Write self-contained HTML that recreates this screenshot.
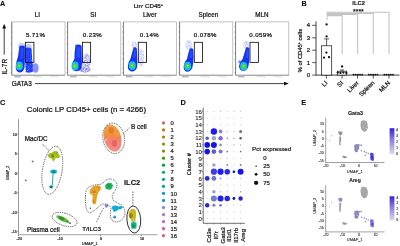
<!DOCTYPE html>
<html><head><meta charset="utf-8"><style>
html,body{margin:0;padding:0;background:#fff;width:400px;height:246px;overflow:hidden}
svg{display:block;font-family:"Liberation Sans", sans-serif;will-change:transform}
</style></head><body>
<svg width="400" height="246" viewBox="0 0 400 246">
<filter id="gb" x="0" y="0" width="100%" height="100%"><feGaussianBlur stdDeviation="0.3"/></filter>
<g filter="url(#gb)"><rect width="400" height="246" fill="#fff"/>
<defs>
<filter id="bl" x="-50%" y="-50%" width="200%" height="200%"><feGaussianBlur stdDeviation="0.75"/></filter>
<filter id="bl2" x="-50%" y="-50%" width="200%" height="200%"><feGaussianBlur stdDeviation="0.55"/></filter>
<filter id="bl3" x="-50%" y="-50%" width="200%" height="200%"><feGaussianBlur stdDeviation="0.35"/></filter>
<filter id="spk" x="-30%" y="-30%" width="160%" height="160%"><feTurbulence type="fractalNoise" baseFrequency="1.1" numOctaves="2" seed="7" result="n"/><feColorMatrix in="n" type="matrix" values="0 0 0 0 0  0 0 0 0 0  0 0 0 0 0  2.4 0 0 0 -0.6" result="m"/><feComposite in="SourceGraphic" in2="m" operator="in" result="c"/><feGaussianBlur in="c" stdDeviation="0.45"/></filter>
<filter id="spk3" x="-30%" y="-30%" width="160%" height="160%"><feTurbulence type="fractalNoise" baseFrequency="0.8" numOctaves="2" seed="3" result="n"/><feColorMatrix in="n" type="matrix" values="0 0 0 0 0  0 0 0 0 0  0 0 0 0 0  2.2 0 0 0 0.25" result="m"/><feComposite in="SourceGraphic" in2="m" operator="in" result="c"/><feGaussianBlur in="c" stdDeviation="0.35"/></filter>
<filter id="spk2" x="-30%" y="-30%" width="160%" height="160%"><feTurbulence type="fractalNoise" baseFrequency="0.6" numOctaves="2" seed="11" result="n"/><feColorMatrix in="n" type="matrix" values="0 0 0 0 0  0 0 0 0 0  0 0 0 0 0  2.2 0 0 0 0.15" result="m"/><feComposite in="SourceGraphic" in2="m" operator="in" result="c"/><feGaussianBlur in="c" stdDeviation="0.5"/></filter>
<linearGradient id="cb" x1="0" y1="0" x2="0" y2="1"><stop offset="0" stop-color="#3322dd"/><stop offset="0.45" stop-color="#8a80dc"/><stop offset="1" stop-color="#dcdce8"/></linearGradient>
<linearGradient id="bg" gradientUnits="userSpaceOnUse" x1="0" y1="124" x2="0" y2="152"><stop offset="0" stop-color="#F2A452"/><stop offset="0.42" stop-color="#EF9038"/><stop offset="0.54" stop-color="#F37E6C"/><stop offset="1" stop-color="#F59088"/></linearGradient>
<clipPath id="bclip"><ellipse cx="112.6" cy="138.1" rx="8.6" ry="13.9" transform="rotate(-14 112.6 138.1)"/></clipPath>
</defs>
<text x="0" y="6.1" font-size="7.2" text-anchor="start" font-weight="bold" fill="#111" stroke="#111" stroke-width="0.1" >A</text>
<text x="148.4" y="7.8" font-size="6.2" text-anchor="middle" fill="#111" stroke="#111" stroke-width="0.22">Lin<tspan font-size="4" dy="-2.2">-</tspan><tspan dy="2.2"> CD45</tspan><tspan font-size="4" dy="-2.2">+</tspan></text>
<text x="37.3" y="16.7" font-size="6.3" text-anchor="middle" font-weight="normal" fill="#111" stroke="#111" stroke-width="0.22" >LI</text>
<text x="35.6" y="37.3" font-size="6.1" text-anchor="middle" font-weight="normal" fill="#111" stroke="#111" stroke-width="0.22" letter-spacing="0.4">5.71%</text>
<rect x="11.8" y="21.9" width="53.2" height="53.3" fill="none" stroke="#a8a8a8" stroke-width="0.7"/>
<line x1="11.8" y1="21.9" x2="11.8" y2="75.2" stroke="#666" stroke-width="0.7"/>
<line x1="11.8" y1="75.2" x2="65.0" y2="75.2" stroke="#888" stroke-width="0.7"/>
<line x1="10.600000000000001" y1="26.5" x2="11.8" y2="26.5" stroke="#777" stroke-width="0.5"/>
<line x1="10.600000000000001" y1="32" x2="11.8" y2="32" stroke="#777" stroke-width="0.5"/>
<line x1="10.600000000000001" y1="38" x2="11.8" y2="38" stroke="#777" stroke-width="0.5"/>
<line x1="10.600000000000001" y1="44" x2="11.8" y2="44" stroke="#777" stroke-width="0.5"/>
<line x1="10.600000000000001" y1="53.4" x2="11.8" y2="53.4" stroke="#777" stroke-width="0.5"/>
<line x1="10.600000000000001" y1="59" x2="11.8" y2="59" stroke="#777" stroke-width="0.5"/>
<line x1="10.600000000000001" y1="68" x2="11.8" y2="68" stroke="#777" stroke-width="0.5"/>
<line x1="10.600000000000001" y1="72.5" x2="11.8" y2="72.5" stroke="#777" stroke-width="0.5"/>
<rect x="14.3" y="76.3" width="6.5" height="1" fill="#7878a0" opacity="0.8"/>
<rect x="32.8" y="76.3" width="9" height="0.9" fill="#c0c0d0" opacity="0.6"/>
<rect x="49.8" y="76.3" width="9" height="0.9" fill="#c8c8d8" opacity="0.6"/>
<text x="93.3" y="16.7" font-size="6.3" text-anchor="middle" font-weight="normal" fill="#111" stroke="#111" stroke-width="0.22" >SI</text>
<text x="92.5" y="37.3" font-size="6.1" text-anchor="middle" font-weight="normal" fill="#111" stroke="#111" stroke-width="0.22" letter-spacing="0.4">0.23%</text>
<rect x="67.6" y="21.9" width="53.2" height="53.3" fill="none" stroke="#a8a8a8" stroke-width="0.7"/>
<line x1="67.6" y1="21.9" x2="67.6" y2="75.2" stroke="#666" stroke-width="0.7"/>
<line x1="67.6" y1="75.2" x2="120.8" y2="75.2" stroke="#888" stroke-width="0.7"/>
<line x1="66.39999999999999" y1="26.5" x2="67.6" y2="26.5" stroke="#777" stroke-width="0.5"/>
<line x1="66.39999999999999" y1="32" x2="67.6" y2="32" stroke="#777" stroke-width="0.5"/>
<line x1="66.39999999999999" y1="38" x2="67.6" y2="38" stroke="#777" stroke-width="0.5"/>
<line x1="66.39999999999999" y1="44" x2="67.6" y2="44" stroke="#777" stroke-width="0.5"/>
<line x1="66.39999999999999" y1="53.4" x2="67.6" y2="53.4" stroke="#777" stroke-width="0.5"/>
<line x1="66.39999999999999" y1="59" x2="67.6" y2="59" stroke="#777" stroke-width="0.5"/>
<line x1="66.39999999999999" y1="68" x2="67.6" y2="68" stroke="#777" stroke-width="0.5"/>
<line x1="66.39999999999999" y1="72.5" x2="67.6" y2="72.5" stroke="#777" stroke-width="0.5"/>
<rect x="70.1" y="76.3" width="6.5" height="1" fill="#7878a0" opacity="0.8"/>
<rect x="88.6" y="76.3" width="9" height="0.9" fill="#c0c0d0" opacity="0.6"/>
<rect x="105.6" y="76.3" width="9" height="0.9" fill="#c8c8d8" opacity="0.6"/>
<text x="149.8" y="16.7" font-size="6.3" text-anchor="middle" font-weight="normal" fill="#111" stroke="#111" stroke-width="0.22" >Liver</text>
<text x="149.4" y="37.3" font-size="6.1" text-anchor="middle" font-weight="normal" fill="#111" stroke="#111" stroke-width="0.22" letter-spacing="0.4">0.14%</text>
<rect x="123.4" y="21.9" width="53.2" height="53.3" fill="none" stroke="#a8a8a8" stroke-width="0.7"/>
<line x1="123.4" y1="21.9" x2="123.4" y2="75.2" stroke="#666" stroke-width="0.7"/>
<line x1="123.4" y1="75.2" x2="176.60000000000002" y2="75.2" stroke="#888" stroke-width="0.7"/>
<line x1="122.2" y1="26.5" x2="123.4" y2="26.5" stroke="#777" stroke-width="0.5"/>
<line x1="122.2" y1="32" x2="123.4" y2="32" stroke="#777" stroke-width="0.5"/>
<line x1="122.2" y1="38" x2="123.4" y2="38" stroke="#777" stroke-width="0.5"/>
<line x1="122.2" y1="44" x2="123.4" y2="44" stroke="#777" stroke-width="0.5"/>
<line x1="122.2" y1="53.4" x2="123.4" y2="53.4" stroke="#777" stroke-width="0.5"/>
<line x1="122.2" y1="59" x2="123.4" y2="59" stroke="#777" stroke-width="0.5"/>
<line x1="122.2" y1="68" x2="123.4" y2="68" stroke="#777" stroke-width="0.5"/>
<line x1="122.2" y1="72.5" x2="123.4" y2="72.5" stroke="#777" stroke-width="0.5"/>
<rect x="125.9" y="76.3" width="6.5" height="1" fill="#7878a0" opacity="0.8"/>
<rect x="144.4" y="76.3" width="9" height="0.9" fill="#c0c0d0" opacity="0.6"/>
<rect x="161.4" y="76.3" width="9" height="0.9" fill="#c8c8d8" opacity="0.6"/>
<text x="208.4" y="16.7" font-size="6.3" text-anchor="middle" font-weight="normal" fill="#111" stroke="#111" stroke-width="0.22" >Spleen</text>
<text x="205.4" y="37.3" font-size="6.1" text-anchor="middle" font-weight="normal" fill="#111" stroke="#111" stroke-width="0.22" letter-spacing="0.4">0.078%</text>
<rect x="179.6" y="21.9" width="53.2" height="53.3" fill="none" stroke="#a8a8a8" stroke-width="0.7"/>
<line x1="179.6" y1="21.9" x2="179.6" y2="75.2" stroke="#666" stroke-width="0.7"/>
<line x1="179.6" y1="75.2" x2="232.8" y2="75.2" stroke="#888" stroke-width="0.7"/>
<line x1="178.4" y1="26.5" x2="179.6" y2="26.5" stroke="#777" stroke-width="0.5"/>
<line x1="178.4" y1="32" x2="179.6" y2="32" stroke="#777" stroke-width="0.5"/>
<line x1="178.4" y1="38" x2="179.6" y2="38" stroke="#777" stroke-width="0.5"/>
<line x1="178.4" y1="44" x2="179.6" y2="44" stroke="#777" stroke-width="0.5"/>
<line x1="178.4" y1="53.4" x2="179.6" y2="53.4" stroke="#777" stroke-width="0.5"/>
<line x1="178.4" y1="59" x2="179.6" y2="59" stroke="#777" stroke-width="0.5"/>
<line x1="178.4" y1="68" x2="179.6" y2="68" stroke="#777" stroke-width="0.5"/>
<line x1="178.4" y1="72.5" x2="179.6" y2="72.5" stroke="#777" stroke-width="0.5"/>
<rect x="182.1" y="76.3" width="6.5" height="1" fill="#7878a0" opacity="0.8"/>
<rect x="200.6" y="76.3" width="9" height="0.9" fill="#c0c0d0" opacity="0.6"/>
<rect x="217.6" y="76.3" width="9" height="0.9" fill="#c8c8d8" opacity="0.6"/>
<text x="262.0" y="16.7" font-size="6.3" text-anchor="middle" font-weight="normal" fill="#111" stroke="#111" stroke-width="0.22" >MLN</text>
<text x="260.8" y="37.3" font-size="6.1" text-anchor="middle" font-weight="normal" fill="#111" stroke="#111" stroke-width="0.22" letter-spacing="0.4">0.059%</text>
<rect x="235.6" y="21.9" width="53.2" height="53.3" fill="none" stroke="#a8a8a8" stroke-width="0.7"/>
<line x1="235.6" y1="21.9" x2="235.6" y2="75.2" stroke="#666" stroke-width="0.7"/>
<line x1="235.6" y1="75.2" x2="288.8" y2="75.2" stroke="#888" stroke-width="0.7"/>
<line x1="234.4" y1="26.5" x2="235.6" y2="26.5" stroke="#777" stroke-width="0.5"/>
<line x1="234.4" y1="32" x2="235.6" y2="32" stroke="#777" stroke-width="0.5"/>
<line x1="234.4" y1="38" x2="235.6" y2="38" stroke="#777" stroke-width="0.5"/>
<line x1="234.4" y1="44" x2="235.6" y2="44" stroke="#777" stroke-width="0.5"/>
<line x1="234.4" y1="53.4" x2="235.6" y2="53.4" stroke="#777" stroke-width="0.5"/>
<line x1="234.4" y1="59" x2="235.6" y2="59" stroke="#777" stroke-width="0.5"/>
<line x1="234.4" y1="68" x2="235.6" y2="68" stroke="#777" stroke-width="0.5"/>
<line x1="234.4" y1="72.5" x2="235.6" y2="72.5" stroke="#777" stroke-width="0.5"/>
<rect x="238.1" y="76.3" width="6.5" height="1" fill="#7878a0" opacity="0.8"/>
<rect x="256.6" y="76.3" width="9" height="0.9" fill="#c0c0d0" opacity="0.6"/>
<rect x="273.6" y="76.3" width="9" height="0.9" fill="#c8c8d8" opacity="0.6"/>
<g filter="url(#spk)" opacity="0.75"><ellipse cx="21.5" cy="46" rx="3.5" ry="3" fill="#90a0ff"/></g>
<g filter="url(#bl)"><path d="M19.5 46 Q22.8 44.6 24.8 46.5 L24.9 58 Q24.8 63 24.6 67 Q23.6 72 20.4 72.4 Q16.6 72.4 15.8 68.5 Q15.4 64 16.8 60.5 Q18.6 56.5 18.6 52 Z" fill="#1430f8"/></g>
<g filter="url(#bl)"><path d="M20.6 48 Q22.6 47.4 23.4 49 L23.2 58 Q22 60 20.4 59 Z" fill="#3a6cff" opacity="0.45"/></g>
<g filter="url(#spk2)"><ellipse cx="28.6" cy="46.6" rx="3.2" ry="2.6" fill="#a8b4ff" opacity="0.7"/><path d="M25.2 48.2 Q28.5 46.8 31.6 48.6 L32.2 60 Q33.4 66 33 71.5 Q29 73.6 25.6 72 Z" fill="#2242f8"/><ellipse cx="35.5" cy="68" rx="3.2" ry="4.8" fill="#6a72ff" opacity="0.8"/></g>
<g filter="url(#bl2)"><ellipse cx="19.4" cy="65.9" rx="3.5" ry="4.4" fill="#10c0f4"/><ellipse cx="19.4" cy="65.9" rx="2.2" ry="2.7" fill="#3cd850"/><ellipse cx="19.4" cy="65.9" rx="0.8" ry="1.0" fill="#d8e020"/><ellipse cx="19.4" cy="65.9" rx="0.3" ry="0.35" fill="#c84010"/></g>
<g filter="url(#spk)"><ellipse cx="86" cy="62" rx="4.5" ry="9" fill="#8080f0" opacity="0.7"/><ellipse cx="85" cy="69.5" rx="6" ry="3" fill="#7070f0" opacity="0.9"/></g>
<g filter="url(#bl)"><path d="M75.5 45 Q79 43.8 81.6 45.8 L81.8 58 Q82.2 64 81.6 68 Q79.8 71.2 76 71.2 Q72 70.8 71.8 66.5 Q72 62 74.4 59 Q74.4 52 75.5 45 Z" fill="#1430f8"/></g>
<g filter="url(#bl)"><path d="M76.6 47 Q79 46.2 80.2 47.6 L80.2 57 Q78.4 59.5 76.4 58 Z" fill="#3a6cff" opacity="0.45"/></g>
<g filter="url(#bl2)"><ellipse cx="75.1" cy="66.0" rx="3.5" ry="4.4" fill="#10c0f4"/><ellipse cx="75.1" cy="66.0" rx="2.2" ry="2.7" fill="#3cd850"/><ellipse cx="75.1" cy="66.0" rx="0.8" ry="1.0" fill="#d8e020"/><ellipse cx="75.1" cy="66.0" rx="0.3" ry="0.35" fill="#c84010"/></g>
<g filter="url(#spk)" opacity="0.5"><ellipse cx="141" cy="58" rx="3.2" ry="9" fill="#9090f0"/></g>
<g filter="url(#spk)" opacity="0.75"><ellipse cx="134.2" cy="45" rx="2.6" ry="3.8" fill="#aab4ff"/></g>
<g filter="url(#bl)"><path d="M133.6 47.5 Q136 46.8 136.8 48.5 L137.2 57 Q137.6 63 137 67.5 Q135.4 71.5 131.8 71.5 Q128 71 127.8 66.5 Q128.2 61.5 130.6 58.5 Q131.8 53 133.6 47.5 Z" fill="#1430f8"/></g>
<g filter="url(#bl)"><path d="M134.2 49.5 Q135.6 49 136 50.5 L135.8 57 Q134.4 59 133 57.5 Z" fill="#3a6cff" opacity="0.45"/></g>
<g filter="url(#bl2)"><ellipse cx="132.3" cy="65.6" rx="3.5" ry="4.4" fill="#10c0f4"/><ellipse cx="132.3" cy="65.6" rx="2.2" ry="2.7" fill="#3cd850"/><ellipse cx="132.3" cy="65.6" rx="0.8" ry="1.0" fill="#d8e020"/><ellipse cx="132.3" cy="65.6" rx="0.3" ry="0.35" fill="#c84010"/></g>
<g filter="url(#spk)" opacity="0.75"><ellipse cx="188.8" cy="45" rx="3.2" ry="5" fill="#aab4ff"/></g>
<g filter="url(#bl)"><path d="M189.8 48.5 Q192.5 47.8 193.3 49.5 L193.6 57 Q193.4 63 192.4 67.5 Q190.5 71.8 187 71.8 Q183.6 71 183.6 66.5 Q184.2 61.5 187 59 Q188.2 53 189.8 48.5 Z" fill="#1430f8"/></g>
<g filter="url(#bl)"><path d="M190.4 50.5 Q192 50 192.4 51.5 L192.2 57 Q190.6 59 189.4 57.5 Z" fill="#3a6cff" opacity="0.45"/></g>
<g filter="url(#bl2)"><ellipse cx="187.6" cy="66.1" rx="3.5" ry="4.4" fill="#10c0f4"/><ellipse cx="187.6" cy="66.1" rx="2.2" ry="2.7" fill="#3cd850"/><ellipse cx="187.6" cy="66.1" rx="0.8" ry="1.0" fill="#d8e020"/><ellipse cx="187.6" cy="66.1" rx="0.3" ry="0.35" fill="#c84010"/></g>
<g filter="url(#spk)" opacity="0.75"><ellipse cx="246.2" cy="45" rx="2.8" ry="4.2" fill="#aab4ff"/></g>
<g filter="url(#bl)"><path d="M246 47.5 Q249 46.5 249.4 48.8 L249.4 57 Q249.2 63 248.2 67 Q246.5 71 243 71 Q239.4 70.4 239 66 Q239.4 62 242.6 59 Q244.5 53 246 47.5 Z" fill="#1430f8"/></g>
<g filter="url(#bl)"><path d="M246.6 49.5 Q248.2 49 248.5 50.5 L248.3 57 Q246.8 59 245.6 57.5 Z" fill="#3a6cff" opacity="0.45"/></g>
<g filter="url(#bl)"><ellipse cx="239.6" cy="61.8" rx="1.4" ry="1.6" fill="#4060ff" opacity="0.7"/></g>
<g filter="url(#bl2)"><ellipse cx="243.6" cy="66.3" rx="3.5" ry="4.4" fill="#10c0f4"/><ellipse cx="243.6" cy="66.3" rx="2.2" ry="2.7" fill="#3cd850"/><ellipse cx="243.6" cy="66.3" rx="0.8" ry="1.0" fill="#d8e020"/><ellipse cx="243.6" cy="66.3" rx="0.3" ry="0.35" fill="#c84010"/></g>
<rect x="25.4" y="42.3" width="8.5" height="20.1" fill="none" stroke="#111" stroke-width="0.85"/>
<rect x="82.4" y="42.3" width="8.2" height="20.1" fill="none" stroke="#111" stroke-width="0.85"/>
<rect x="138.3" y="42.3" width="8.2" height="20.1" fill="none" stroke="#111" stroke-width="0.85"/>
<rect x="194.3" y="42.3" width="8.2" height="20.1" fill="none" stroke="#111" stroke-width="0.85"/>
<rect x="250.0" y="42.3" width="8.4" height="20.1" fill="none" stroke="#111" stroke-width="0.85"/>
<line x1="4.2" y1="27" x2="4.2" y2="54.7" stroke="#111" stroke-width="0.8"/>
<path d="M4.2 23.8 L6.1 28.4 L2.3 28.4 Z" fill="#111"/>
<text x="0" y="0" font-size="6.4" text-anchor="middle" font-weight="normal" fill="#111" stroke="#111" stroke-width="0.22" transform="translate(6.7 66.8) rotate(-90)">IL-7R</text>
<text x="11.7" y="85.9" font-size="6.4" text-anchor="start" font-weight="normal" fill="#111" stroke="#111" stroke-width="0.22" >GATA3</text>
<line x1="35" y1="83.6" x2="284" y2="83.6" stroke="#111" stroke-width="0.8"/>
<path d="M288.8 83.6 L284 81.8 L284 85.4 Z" fill="#111"/>
<text x="301.4" y="6.2" font-size="7.2" text-anchor="start" font-weight="bold" fill="#111" stroke="#111" stroke-width="0.1" >B</text>
<text x="358.6" y="5.0" font-size="5.8" text-anchor="middle" font-weight="bold" fill="#111" stroke="#111" stroke-width="0.1" >ILC2</text>
<text x="358.4" y="14.0" font-size="6.8" text-anchor="middle" font-weight="bold" fill="#111" stroke="#111" stroke-width="0.1" >****</text>
<path d="M327.2 15.6 L342.1 15.6 L342.1 54" fill="none" stroke="#c4c4c4" stroke-width="1.1"/>
<path d="M327.2 14.5 L357.6 14.5 L357.6 54" fill="none" stroke="#c4c4c4" stroke-width="1.1"/>
<path d="M327.2 13.4 L373.3 13.4 L373.3 54" fill="none" stroke="#c4c4c4" stroke-width="1.1"/>
<path d="M327.2 12.3 L389.0 12.3 L389.0 54" fill="none" stroke="#c4c4c4" stroke-width="1.1"/>
<line x1="327.2" y1="11.8" x2="327.2" y2="20.2" stroke="#b8b8b8" stroke-width="0.8"/>
<line x1="316.0" y1="21.4" x2="316.0" y2="75.1" stroke="#111" stroke-width="0.8"/>
<line x1="316.0" y1="75.1" x2="399.5" y2="75.1" stroke="#111" stroke-width="0.8"/>
<line x1="312.2" y1="75.1" x2="316.0" y2="75.1" stroke="#111" stroke-width="0.7"/>
<text x="310.0" y="77.2" font-size="5.9" text-anchor="end" font-weight="normal" fill="#111" stroke="#111" stroke-width="0.22" >0</text>
<line x1="312.2" y1="62.6" x2="316.0" y2="62.6" stroke="#111" stroke-width="0.7"/>
<text x="310.0" y="64.7" font-size="5.9" text-anchor="end" font-weight="normal" fill="#111" stroke="#111" stroke-width="0.22" >1</text>
<line x1="312.2" y1="50.2" x2="316.0" y2="50.2" stroke="#111" stroke-width="0.7"/>
<text x="310.0" y="52.3" font-size="5.9" text-anchor="end" font-weight="normal" fill="#111" stroke="#111" stroke-width="0.22" >2</text>
<line x1="312.2" y1="37.8" x2="316.0" y2="37.8" stroke="#111" stroke-width="0.7"/>
<text x="310.0" y="39.9" font-size="5.9" text-anchor="end" font-weight="normal" fill="#111" stroke="#111" stroke-width="0.22" >3</text>
<line x1="312.2" y1="25.3" x2="316.0" y2="25.3" stroke="#111" stroke-width="0.7"/>
<text x="310.0" y="27.4" font-size="5.9" text-anchor="end" font-weight="normal" fill="#111" stroke="#111" stroke-width="0.22" >4</text>
<line x1="326.4" y1="75.1" x2="326.4" y2="78.6" stroke="#111" stroke-width="0.7"/>
<line x1="342.1" y1="75.1" x2="342.1" y2="78.6" stroke="#111" stroke-width="0.7"/>
<line x1="357.6" y1="75.1" x2="357.6" y2="78.6" stroke="#111" stroke-width="0.7"/>
<line x1="373.3" y1="75.1" x2="373.3" y2="78.6" stroke="#111" stroke-width="0.7"/>
<line x1="389.0" y1="75.1" x2="389.0" y2="78.6" stroke="#111" stroke-width="0.7"/>
<rect x="321.6" y="45.8" width="10.1" height="29.3" fill="#fff" stroke="#111" stroke-width="0.7"/>
<path d="M326.6 45.8 L326.6 38.9 M324.2 38.9 L329.0 38.9" stroke="#111" stroke-width="0.7"/>
<rect x="337.3" y="71.2" width="9.4" height="3.9" fill="#fff" stroke="#111" stroke-width="0.7"/>
<path d="M342.1 71.2 L342.1 70.0 M340.2 70.0 L344.0 70.0" stroke="#111" stroke-width="0.7"/>
<circle cx="326.6" cy="24.4" r="1.15" fill="#111"/>
<circle cx="326.6" cy="36.4" r="1.15" fill="#111"/>
<circle cx="326.4" cy="52.6" r="1.15" fill="#111"/>
<circle cx="324" cy="57.6" r="1.15" fill="#111"/>
<circle cx="329" cy="57.2" r="1.15" fill="#111"/>
<circle cx="342.1" cy="66.5" r="1.15" fill="#111"/>
<circle cx="337.8" cy="72.6" r="1.15" fill="#111"/>
<circle cx="340.5" cy="72.9" r="1.15" fill="#111"/>
<circle cx="343.4" cy="72.6" r="1.15" fill="#111"/>
<circle cx="346.3" cy="72.9" r="1.15" fill="#111"/>
<circle cx="353.60" cy="74.6" r="0.95" fill="#111"/>
<circle cx="355.75" cy="74.6" r="0.95" fill="#111"/>
<circle cx="357.90" cy="74.6" r="0.95" fill="#111"/>
<circle cx="360.05" cy="74.6" r="0.95" fill="#111"/>
<circle cx="362.20" cy="74.6" r="0.95" fill="#111"/>
<circle cx="368.80" cy="74.6" r="0.95" fill="#111"/>
<circle cx="370.95" cy="74.6" r="0.95" fill="#111"/>
<circle cx="373.10" cy="74.6" r="0.95" fill="#111"/>
<circle cx="375.25" cy="74.6" r="0.95" fill="#111"/>
<circle cx="377.40" cy="74.6" r="0.95" fill="#111"/>
<circle cx="384.40" cy="74.6" r="0.95" fill="#111"/>
<circle cx="386.55" cy="74.6" r="0.95" fill="#111"/>
<circle cx="388.70" cy="74.6" r="0.95" fill="#111"/>
<circle cx="390.85" cy="74.6" r="0.95" fill="#111"/>
<circle cx="393.00" cy="74.6" r="0.95" fill="#111"/>
<text x="0" y="0" font-size="6.1" text-anchor="end" fill="#111" stroke="#111" stroke-width="0.22" transform="translate(327.9 83.3) rotate(-45)">LI</text>
<text x="0" y="0" font-size="6.1" text-anchor="end" fill="#111" stroke="#111" stroke-width="0.22" transform="translate(343.6 83.3) rotate(-45)">SI</text>
<text x="0" y="0" font-size="6.1" text-anchor="end" fill="#111" stroke="#111" stroke-width="0.22" transform="translate(359.1 83.3) rotate(-45)">Liver</text>
<text x="0" y="0" font-size="6.1" text-anchor="end" fill="#111" stroke="#111" stroke-width="0.22" transform="translate(374.8 83.3) rotate(-45)">Spleen</text>
<text x="0" y="0" font-size="6.1" text-anchor="end" fill="#111" stroke="#111" stroke-width="0.22" transform="translate(390.5 83.3) rotate(-45)">MLN</text>
<text x="0" y="0" font-size="5.8" text-anchor="middle" fill="#111" stroke="#111" stroke-width="0.22" transform="translate(302.0 50.6) rotate(-90)">% of CD45<tspan font-size="3.6" dy="-1.9">+</tspan><tspan dy="1.9"> cells</tspan></text>
<text x="0" y="105.0" font-size="7.4" text-anchor="start" font-weight="bold" fill="#111" stroke="#111" stroke-width="0.1" >C</text>
<text x="26.8" y="111.8" font-size="7.75" text-anchor="start" font-weight="normal" fill="#111" stroke="#111" stroke-width="0.22" >Colonic LP CD45+ cells (n = 4266)</text>
<line x1="18.5" y1="119.1" x2="18.5" y2="234.7" stroke="#555" stroke-width="0.6"/>
<line x1="18.5" y1="234.7" x2="157.5" y2="234.7" stroke="#666" stroke-width="0.6"/>
<line x1="17.2" y1="134.2" x2="18.5" y2="134.2" stroke="#333" stroke-width="0.5"/>
<text x="16.9" y="135.5" font-size="3.7" text-anchor="end" font-weight="normal" fill="#333" stroke="#333" stroke-width="0.22" >10</text>
<line x1="17.2" y1="153.7" x2="18.5" y2="153.7" stroke="#333" stroke-width="0.5"/>
<text x="16.9" y="155.0" font-size="3.7" text-anchor="end" font-weight="normal" fill="#333" stroke="#333" stroke-width="0.22" >5</text>
<line x1="17.2" y1="173.2" x2="18.5" y2="173.2" stroke="#333" stroke-width="0.5"/>
<text x="16.9" y="174.5" font-size="3.7" text-anchor="end" font-weight="normal" fill="#333" stroke="#333" stroke-width="0.22" >0</text>
<line x1="17.2" y1="192.7" x2="18.5" y2="192.7" stroke="#333" stroke-width="0.5"/>
<text x="16.9" y="194.0" font-size="3.7" text-anchor="end" font-weight="normal" fill="#333" stroke="#333" stroke-width="0.22" >-5</text>
<line x1="17.2" y1="212.2" x2="18.5" y2="212.2" stroke="#333" stroke-width="0.5"/>
<text x="16.9" y="213.5" font-size="3.7" text-anchor="end" font-weight="normal" fill="#333" stroke="#333" stroke-width="0.22" >-10</text>
<line x1="17.2" y1="231.7" x2="18.5" y2="231.7" stroke="#333" stroke-width="0.5"/>
<text x="16.9" y="233.0" font-size="3.7" text-anchor="end" font-weight="normal" fill="#333" stroke="#333" stroke-width="0.22" >-15</text>
<line x1="18.5" y1="234.7" x2="18.5" y2="236.0" stroke="#333" stroke-width="0.5"/>
<text x="19.1" y="239.6" font-size="3.7" text-anchor="middle" font-weight="normal" fill="#333" stroke="#333" stroke-width="0.22" >-20</text>
<line x1="59.5" y1="234.7" x2="59.5" y2="236.0" stroke="#333" stroke-width="0.5"/>
<text x="60.1" y="239.6" font-size="3.7" text-anchor="middle" font-weight="normal" fill="#333" stroke="#333" stroke-width="0.22" >-10</text>
<line x1="100.5" y1="234.7" x2="100.5" y2="236.0" stroke="#333" stroke-width="0.5"/>
<text x="101.1" y="239.6" font-size="3.7" text-anchor="middle" font-weight="normal" fill="#333" stroke="#333" stroke-width="0.22" >0</text>
<line x1="141.5" y1="234.7" x2="141.5" y2="236.0" stroke="#333" stroke-width="0.5"/>
<text x="142.1" y="239.6" font-size="3.7" text-anchor="middle" font-weight="normal" fill="#333" stroke="#333" stroke-width="0.22" >10</text>
<text x="0" y="0" font-size="3.6" text-anchor="middle" font-weight="normal" fill="#444" stroke="#444" stroke-width="0.22" transform="translate(8.9 173) rotate(-90)">UMAP_2</text>
<text x="89.8" y="244.7" font-size="4.0" text-anchor="middle" font-weight="normal" fill="#333" stroke="#333" stroke-width="0.22" >UMAP_1</text>
<circle cx="163.5" cy="122.90" r="1.6" fill="#d5655d" filter="url(#bl3)"/>
<text x="170.6" y="125.0" font-size="5.8" text-anchor="start" font-weight="normal" fill="#222" stroke="#222" stroke-width="0.22" >0</text>
<circle cx="163.5" cy="129.95" r="1.6" fill="#c67219" filter="url(#bl3)"/>
<text x="170.6" y="132.05" font-size="5.8" text-anchor="start" font-weight="normal" fill="#222" stroke="#222" stroke-width="0.22" >1</text>
<circle cx="163.5" cy="137.00" r="1.6" fill="#b27f00" filter="url(#bl3)"/>
<text x="170.6" y="139.1" font-size="5.8" text-anchor="start" font-weight="normal" fill="#222" stroke="#222" stroke-width="0.22" >2</text>
<circle cx="163.5" cy="144.05" r="1.6" fill="#998a00" filter="url(#bl3)"/>
<text x="170.6" y="146.15" font-size="5.8" text-anchor="start" font-weight="normal" fill="#222" stroke="#222" stroke-width="0.22" >3</text>
<circle cx="163.5" cy="151.10" r="1.6" fill="#759300" filter="url(#bl3)"/>
<text x="170.6" y="153.2" font-size="5.8" text-anchor="start" font-weight="normal" fill="#222" stroke="#222" stroke-width="0.22" >4</text>
<circle cx="163.5" cy="158.15" r="1.6" fill="#3b9b00" filter="url(#bl3)"/>
<text x="170.6" y="160.25" font-size="5.8" text-anchor="start" font-weight="normal" fill="#222" stroke="#222" stroke-width="0.22" >5</text>
<circle cx="163.5" cy="165.20" r="1.6" fill="#00a145" filter="url(#bl3)"/>
<text x="170.6" y="167.3" font-size="5.8" text-anchor="start" font-weight="normal" fill="#222" stroke="#222" stroke-width="0.22" >6</text>
<circle cx="163.5" cy="172.25" r="1.6" fill="#00a574" filter="url(#bl3)"/>
<text x="170.6" y="174.35" font-size="5.8" text-anchor="start" font-weight="normal" fill="#222" stroke="#222" stroke-width="0.22" >7</text>
<circle cx="163.5" cy="179.30" r="1.6" fill="#00a599" filter="url(#bl3)"/>
<text x="170.6" y="181.4" font-size="5.8" text-anchor="start" font-weight="normal" fill="#222" stroke="#222" stroke-width="0.22" >8</text>
<circle cx="163.5" cy="186.35" r="1.6" fill="#00a1b8" filter="url(#bl3)"/>
<text x="170.6" y="188.45" font-size="5.8" text-anchor="start" font-weight="normal" fill="#222" stroke="#222" stroke-width="0.22" >9</text>
<circle cx="163.5" cy="193.40" r="1.6" fill="#0099d0" filter="url(#bl3)"/>
<text x="170.6" y="195.5" font-size="5.8" text-anchor="start" font-weight="normal" fill="#222" stroke="#222" stroke-width="0.22" >10</text>
<circle cx="163.5" cy="200.45" r="1.6" fill="#238cdb" filter="url(#bl3)"/>
<text x="170.6" y="202.55" font-size="5.8" text-anchor="start" font-weight="normal" fill="#222" stroke="#222" stroke-width="0.22" >11</text>
<circle cx="163.5" cy="207.50" r="1.6" fill="#8679db" filter="url(#bl3)"/>
<text x="170.6" y="209.6" font-size="5.8" text-anchor="start" font-weight="normal" fill="#222" stroke="#222" stroke-width="0.22" >12</text>
<circle cx="163.5" cy="214.55" r="1.6" fill="#b466db" filter="url(#bl3)"/>
<text x="170.6" y="216.65" font-size="5.8" text-anchor="start" font-weight="normal" fill="#222" stroke="#222" stroke-width="0.22" >13</text>
<circle cx="163.5" cy="221.60" r="1.6" fill="#cf57c7" filter="url(#bl3)"/>
<text x="170.6" y="223.7" font-size="5.8" text-anchor="start" font-weight="normal" fill="#222" stroke="#222" stroke-width="0.22" >14</text>
<circle cx="163.5" cy="228.65" r="1.6" fill="#db53ab" filter="url(#bl3)"/>
<text x="170.6" y="230.75" font-size="5.8" text-anchor="start" font-weight="normal" fill="#222" stroke="#222" stroke-width="0.22" >15</text>
<circle cx="163.5" cy="235.70" r="1.6" fill="#db5987" filter="url(#bl3)"/>
<text x="170.6" y="237.8" font-size="5.8" text-anchor="start" font-weight="normal" fill="#222" stroke="#222" stroke-width="0.22" >16</text>
<g clip-path="url(#bclip)"><g filter="url(#bl3)">
<rect x="100" y="120" width="28" height="36" fill="url(#bg)"/>
<ellipse cx="111.2" cy="130.4" rx="2.6" ry="3.2" fill="#D8700C" opacity="0.65"/>
<ellipse cx="114.4" cy="143.4" rx="2.6" ry="3.4" fill="#E24E58" opacity="0.6"/>
<circle cx="106.2" cy="140" r="1.4" fill="#f8b8b0" opacity="0.7"/>
<circle cx="117.5" cy="134" r="1.2" fill="#f4b060" opacity="0.6"/>
</g></g>
<ellipse cx="113.7" cy="138.3" rx="10.8" ry="15.3" transform="rotate(-10 113.7 138.3)" fill="none" stroke="#1a1a1a" stroke-width="0.85" stroke-dasharray="0.8 1.0"/>
<line x1="123.6" y1="133.6" x2="129.6" y2="127.8" fill="none" stroke="#1a1a1a" stroke-width="0.85" stroke-dasharray="0.8 1.0"/>
<text x="131.0" y="128.9" font-size="6.4" text-anchor="start" font-weight="normal" fill="#111" stroke="#111" stroke-width="0.22" >B cell</text>
<g filter="url(#spk3)">
<path d="M48 154.5 Q49 152.5 51.5 153 Q53 150.8 56 151 Q58.6 151.4 58.5 153.6 Q60.2 155 59.8 157.6 Q58 158.8 56 158 Q54.5 159.5 53.3 161.8 Q52.2 160 51.5 158.6 Q49 158.5 48 156.5 Z" fill="#A2BE22"/>
<circle cx="52.6" cy="156" r="1.4" fill="#4e6000" opacity="0.6"/>
<circle cx="56.2" cy="153" r="1.1" fill="#7a9600" opacity="0.6"/>
<ellipse cx="53.6" cy="171.6" rx="3.4" ry="2.2" fill="#14B4B8"/>
<ellipse cx="53.8" cy="171.9" rx="1.5" ry="1.1" fill="#007878" opacity="0.8"/>
<path d="M53.1 173.2 L52.3 185" stroke="#20B0C0" stroke-width="1.1"/>
<ellipse cx="51.3" cy="186.8" rx="2.1" ry="1.6" fill="#129aa6"/>
<ellipse cx="51.2" cy="187" rx="1.1" ry="0.9" fill="#005f66" opacity="0.8"/>
</g>
<ellipse cx="52.3" cy="170.3" rx="9.8" ry="24.3" transform="rotate(9.5 52.3 170.3)" fill="none" stroke="#1a1a1a" stroke-width="0.85" stroke-dasharray="0.8 1.0"/>
<line x1="42.4" y1="144" x2="49.2" y2="150.8" fill="none" stroke="#1a1a1a" stroke-width="0.85" stroke-dasharray="0.8 1.0"/>
<text x="24.8" y="141.0" font-size="6.3" text-anchor="start" font-weight="normal" fill="#111" stroke="#111" stroke-width="0.22" >Mac/DC</text>
<circle cx="32.4" cy="161.4" r="0.8" fill="#556677"/><circle cx="33.3" cy="161.8" r="0.6" fill="#778899"/>
<circle cx="25.6" cy="180.2" r="0.8" fill="#556677"/><circle cx="26.4" cy="180.8" r="0.6" fill="#778899"/>
<g filter="url(#bl3)">
<ellipse cx="62.6" cy="219" rx="7.0" ry="2.2" fill="#66C048" transform="rotate(26 62.6 219)"/>
<ellipse cx="61.6" cy="218.3" rx="3.4" ry="1.5" fill="#1e8a10" transform="rotate(26 61.6 218.3)" opacity="0.8"/>
<ellipse cx="67.5" cy="221.6" rx="2" ry="0.8" fill="#2a7a20" transform="rotate(26 67.5 221.6)" opacity="0.7"/>
</g>
<circle cx="70" cy="223.1" r="0.85" fill="#224433"/>
<ellipse cx="64.6" cy="219.5" rx="12.9" ry="6.2" transform="rotate(18 64.6 219.5)" fill="none" stroke="#1a1a1a" stroke-width="0.85" stroke-dasharray="0.8 1.0"/>
<text x="27.0" y="232.0" font-size="6.4" text-anchor="start" font-weight="normal" fill="#111" stroke="#111" stroke-width="0.22" >Plasma cell</text>
<g filter="url(#spk3)">
<path d="M91 188.5 Q93 185.3 96 185.4 Q99.2 184.8 101 187 Q101.2 190 98.8 191.6 Q97.8 194 97 196.5 Q96.6 200 95.8 203.8 Q93.8 204.8 92.5 203.2 Q92 199.5 92.8 196.5 Q92.2 194.6 90.2 193.8 Q88.6 191.4 91 188.5 Z" fill="#E2A228"/>
<circle cx="94.2" cy="191.8" r="1.4" fill="#a86400" opacity="0.55"/>
<circle cx="98.6" cy="187.6" r="1.1" fill="#c88400" opacity="0.6"/>
<circle cx="93.6" cy="201.4" r="0.8" fill="#a06000" opacity="0.6"/>
<path d="M105 185.6 Q106.6 183 109 182.8 Q112.4 182.6 112.9 185.2 Q113 188 110.6 189.6 Q107.4 190.2 105.6 188.6 Z" fill="#22B45C"/>
<circle cx="108.6" cy="185.6" r="1.2" fill="#007a36" opacity="0.7"/>
<path d="M104.5 204.4 Q106.6 203.8 108.4 205.2 Q107.8 208 105.6 207.8 Z" fill="#8878D8"/>
<path d="M111.5 207 Q115 204.5 118.5 206.5 Q122 205 123 207.5 Q121 210 118 209.5 Q116 212.5 113.5 211.5 Z" fill="#10AED0"/>
<circle cx="114.6" cy="217" r="1.5" fill="#2890E8"/>
</g>
<circle cx="90.3" cy="208.2" r="0.75" fill="#334466"/>
<path d="M85.5 196 Q85.5 188 90 186.5 Q95 184.5 100 184.5 Q103.5 183 106 180 Q110 178 114 180 Q117.5 182.5 116.8 186.5 Q115.5 191 112.6 194 Q111.6 198.5 114 201 Q117.5 203.5 121 204.5 Q125 207.5 125 213 Q124.5 219 119 221.5 Q113.5 223 111 219 Q109.8 213.5 111 208.5 Q110 205.5 108 205 Q104 202.5 100 205.5 Q95 210.5 90 213 Q86.5 212 85.6 205 Z" fill="none" stroke="#1a1a1a" stroke-width="0.85" stroke-dasharray="0.8 1.0"/>
<line x1="96.6" y1="221.8" x2="103.4" y2="208.2" fill="none" stroke="#1a1a1a" stroke-width="0.85" stroke-dasharray="0.8 1.0"/>
<text x="82.3" y="230.6" font-size="6.2" text-anchor="start" font-weight="normal" fill="#111" stroke="#111" stroke-width="0.22" >T/ILC3</text>
<g filter="url(#bl3)">
<path d="M131.8 208.8 Q134.5 208.2 135.6 210.2 Q136.6 213 136 216.5 Q135.6 219 135.2 221.5 Q133.5 222.5 131.8 221.8 Q131.2 219.5 129.6 218.2 Q128.2 215.5 128.8 212.5 Q130 210 131.8 208.8 Z" fill="#C8B828"/>
<ellipse cx="130.9" cy="215.6" rx="2" ry="2.5" fill="#857600" opacity="0.75"/>
<ellipse cx="133.6" cy="220.3" rx="1.8" ry="1.5" fill="#b4c470"/>
<path d="M131.2 222.5 Q133.5 221.6 136.4 222.6 Q137 225.5 136.2 228.2 Q133.8 229.4 131.4 228.4 Q130.6 225.5 131.2 222.5 Z" fill="#14B488"/>
<circle cx="133.4" cy="226" r="1.4" fill="#007a58" opacity="0.7"/>
</g>
<ellipse cx="133.8" cy="219.5" rx="6.9" ry="13.6" transform="rotate(-4 133.8 219.5)" fill="none" stroke="#222" stroke-width="0.9"/>
<line x1="132.9" y1="191.6" x2="132.9" y2="205.6" stroke="#333" stroke-width="0.8" stroke-dasharray="1.4 1.2"/>
<text x="124.0" y="185.4" font-size="7.5" text-anchor="start" font-weight="bold" fill="#111" stroke="#111" stroke-width="0.1" >ILC2</text>
<text x="180.6" y="105.1" font-size="7.4" text-anchor="start" font-weight="bold" fill="#111" stroke="#111" stroke-width="0.1" >D</text>
<line x1="203.2" y1="107.6" x2="203.2" y2="223.3" stroke="#333" stroke-width="0.7"/>
<line x1="203.2" y1="223.3" x2="244.8" y2="223.3" stroke="#333" stroke-width="0.7"/>
<line x1="201.8" y1="218.60" x2="203.2" y2="218.60" stroke="#333" stroke-width="0.5"/>
<text x="202.0" y="220.8" font-size="6.1" text-anchor="end" font-weight="normal" fill="#222" stroke="#222" stroke-width="0.08" >0</text>
<line x1="201.8" y1="211.90" x2="203.2" y2="211.90" stroke="#333" stroke-width="0.5"/>
<text x="202.0" y="214.1" font-size="6.1" text-anchor="end" font-weight="normal" fill="#222" stroke="#222" stroke-width="0.08" >1</text>
<line x1="201.8" y1="205.20" x2="203.2" y2="205.20" stroke="#333" stroke-width="0.5"/>
<text x="202.0" y="207.4" font-size="6.1" text-anchor="end" font-weight="normal" fill="#222" stroke="#222" stroke-width="0.08" >2</text>
<line x1="201.8" y1="198.50" x2="203.2" y2="198.50" stroke="#333" stroke-width="0.5"/>
<text x="202.0" y="200.7" font-size="6.1" text-anchor="end" font-weight="normal" fill="#222" stroke="#222" stroke-width="0.08" >3</text>
<line x1="201.8" y1="191.80" x2="203.2" y2="191.80" stroke="#333" stroke-width="0.5"/>
<text x="202.0" y="194.0" font-size="6.1" text-anchor="end" font-weight="normal" fill="#222" stroke="#222" stroke-width="0.08" >4</text>
<line x1="201.8" y1="185.10" x2="203.2" y2="185.10" stroke="#333" stroke-width="0.5"/>
<text x="202.0" y="187.3" font-size="6.1" text-anchor="end" font-weight="normal" fill="#222" stroke="#222" stroke-width="0.08" >5</text>
<line x1="201.8" y1="178.40" x2="203.2" y2="178.40" stroke="#333" stroke-width="0.5"/>
<text x="202.0" y="180.6" font-size="6.1" text-anchor="end" font-weight="normal" fill="#222" stroke="#222" stroke-width="0.08" >6</text>
<line x1="201.8" y1="171.70" x2="203.2" y2="171.70" stroke="#333" stroke-width="0.5"/>
<text x="202.0" y="173.9" font-size="6.1" text-anchor="end" font-weight="normal" fill="#222" stroke="#222" stroke-width="0.08" >7</text>
<line x1="201.8" y1="165.00" x2="203.2" y2="165.00" stroke="#333" stroke-width="0.5"/>
<text x="202.0" y="167.2" font-size="6.1" text-anchor="end" font-weight="normal" fill="#222" stroke="#222" stroke-width="0.08" >8</text>
<line x1="201.8" y1="158.30" x2="203.2" y2="158.30" stroke="#333" stroke-width="0.5"/>
<text x="202.0" y="160.5" font-size="6.1" text-anchor="end" font-weight="normal" fill="#222" stroke="#222" stroke-width="0.08" >9</text>
<line x1="201.8" y1="151.60" x2="203.2" y2="151.60" stroke="#333" stroke-width="0.5"/>
<text x="202.0" y="153.8" font-size="6.1" text-anchor="end" font-weight="normal" fill="#222" stroke="#222" stroke-width="0.08" >10</text>
<line x1="201.8" y1="144.90" x2="203.2" y2="144.90" stroke="#333" stroke-width="0.5"/>
<text x="202.0" y="147.1" font-size="6.1" text-anchor="end" font-weight="normal" fill="#222" stroke="#222" stroke-width="0.08" >11</text>
<line x1="201.8" y1="138.20" x2="203.2" y2="138.20" stroke="#333" stroke-width="0.5"/>
<text x="202.0" y="140.4" font-size="6.1" text-anchor="end" font-weight="normal" fill="#222" stroke="#222" stroke-width="0.08" >12</text>
<line x1="201.8" y1="131.50" x2="203.2" y2="131.50" stroke="#333" stroke-width="0.5"/>
<text x="202.0" y="133.7" font-size="6.1" text-anchor="end" font-weight="normal" fill="#222" stroke="#222" stroke-width="0.08" >13</text>
<line x1="201.8" y1="124.80" x2="203.2" y2="124.80" stroke="#333" stroke-width="0.5"/>
<text x="202.0" y="127.0" font-size="6.1" text-anchor="end" font-weight="normal" fill="#222" stroke="#222" stroke-width="0.08" >14</text>
<line x1="201.8" y1="118.10" x2="203.2" y2="118.10" stroke="#333" stroke-width="0.5"/>
<text x="202.0" y="120.3" font-size="6.1" text-anchor="end" font-weight="normal" fill="#222" stroke="#222" stroke-width="0.08" >15</text>
<line x1="201.8" y1="111.40" x2="203.2" y2="111.40" stroke="#333" stroke-width="0.5"/>
<text x="202.0" y="113.6" font-size="6.1" text-anchor="end" font-weight="normal" fill="#222" stroke="#222" stroke-width="0.08" >16</text>
<line x1="207.20" y1="223.3" x2="207.20" y2="224.4" stroke="#333" stroke-width="0.5"/>
<line x1="213.88" y1="223.3" x2="213.88" y2="224.4" stroke="#333" stroke-width="0.5"/>
<line x1="220.56" y1="223.3" x2="220.56" y2="224.4" stroke="#333" stroke-width="0.5"/>
<line x1="227.24" y1="223.3" x2="227.24" y2="224.4" stroke="#333" stroke-width="0.5"/>
<line x1="233.92" y1="223.3" x2="233.92" y2="224.4" stroke="#333" stroke-width="0.5"/>
<line x1="240.60" y1="223.3" x2="240.60" y2="224.4" stroke="#333" stroke-width="0.5"/>
<text x="0" y="0" font-size="6.0" text-anchor="middle" fill="#222" stroke="#222" stroke-width="0.22" transform="translate(211.30 235.3) rotate(-90)">Cd3e</text>
<text x="0" y="0" font-size="6.0" text-anchor="middle" fill="#222" stroke="#222" stroke-width="0.22" transform="translate(217.98 235.3) rotate(-90)">Il7r</text>
<text x="0" y="0" font-size="6.0" text-anchor="middle" fill="#222" stroke="#222" stroke-width="0.22" transform="translate(224.66 235.3) rotate(-90)">Gata3</text>
<text x="0" y="0" font-size="6.0" text-anchor="middle" fill="#222" stroke="#222" stroke-width="0.22" transform="translate(231.34 235.3) rotate(-90)">Il1rl1</text>
<text x="0" y="0" font-size="6.0" text-anchor="middle" fill="#222" stroke="#222" stroke-width="0.22" transform="translate(238.02 235.3) rotate(-90)">Il17rb</text>
<text x="0" y="0" font-size="6.0" text-anchor="middle" fill="#222" stroke="#222" stroke-width="0.22" transform="translate(244.70 235.3) rotate(-90)">Areg</text>
<text x="0" y="0" font-size="5.5" text-anchor="middle" font-weight="normal" fill="#222" stroke="#222" stroke-width="0.22" transform="translate(190.8 164.3) rotate(-90)">Cluster #</text>
<circle cx="207.20" cy="218.60" r="0.6" fill="#c8c8d2"/>
<circle cx="213.88" cy="218.60" r="0.6" fill="#c8c8d2"/>
<circle cx="220.56" cy="218.60" r="0.6" fill="#c8c8d2"/>
<circle cx="227.24" cy="218.60" r="0.6" fill="#c8c8d2"/>
<circle cx="233.92" cy="218.60" r="0.6" fill="#c8c8d2"/>
<circle cx="240.60" cy="218.60" r="0.6" fill="#c8c8d2"/>
<circle cx="207.20" cy="211.90" r="0.6" fill="#c8c8d2"/>
<circle cx="213.88" cy="211.90" r="0.6" fill="#c8c8d2"/>
<circle cx="220.56" cy="211.90" r="0.6" fill="#c8c8d2"/>
<circle cx="227.24" cy="211.90" r="0.6" fill="#c8c8d2"/>
<circle cx="233.92" cy="211.90" r="0.6" fill="#c8c8d2"/>
<circle cx="240.60" cy="211.90" r="0.6" fill="#c8c8d2"/>
<circle cx="207.20" cy="205.20" r="2.2" fill="#2828d0"/>
<circle cx="213.88" cy="205.20" r="1.65" fill="#8888b0"/>
<circle cx="220.56" cy="205.20" r="1.3" fill="#7070a8"/>
<circle cx="227.24" cy="205.20" r="0.6" fill="#c8c8d2"/>
<circle cx="233.92" cy="205.20" r="0.6" fill="#c8c8d2"/>
<circle cx="240.60" cy="205.20" r="0.6" fill="#c8c8d2"/>
<circle cx="207.20" cy="198.50" r="0.6" fill="#c8c8d2"/>
<circle cx="213.88" cy="198.50" r="3.0" fill="#7878d0"/>
<circle cx="220.56" cy="198.50" r="3.0" fill="#2020e8"/>
<circle cx="227.24" cy="198.50" r="2.75" fill="#2424e0"/>
<circle cx="233.92" cy="198.50" r="1.4" fill="#0c0cb0"/>
<circle cx="240.60" cy="198.50" r="2.2" fill="#2828c8"/>
<circle cx="207.20" cy="191.80" r="0.6" fill="#c8c8d2"/>
<circle cx="213.88" cy="191.80" r="1.8" fill="#a0a0c8"/>
<circle cx="220.56" cy="191.80" r="0.55" fill="#9090a8"/>
<circle cx="227.24" cy="191.80" r="0.55" fill="#a0a0b0"/>
<circle cx="233.92" cy="191.80" r="0.6" fill="#c8c8d2"/>
<circle cx="240.60" cy="191.80" r="0.65" fill="#606080"/>
<circle cx="207.20" cy="185.10" r="0.6" fill="#c8c8d2"/>
<circle cx="213.88" cy="185.10" r="0.6" fill="#c8c8d2"/>
<circle cx="220.56" cy="185.10" r="0.6" fill="#c8c8d2"/>
<circle cx="227.24" cy="185.10" r="0.6" fill="#c8c8d2"/>
<circle cx="233.92" cy="185.10" r="0.6" fill="#c8c8d2"/>
<circle cx="240.60" cy="185.10" r="0.6" fill="#c8c8d2"/>
<circle cx="207.20" cy="178.40" r="2.4" fill="#2c2cd8"/>
<circle cx="213.88" cy="178.40" r="2.4" fill="#7070d0"/>
<circle cx="220.56" cy="178.40" r="0.9" fill="#9090d8"/>
<circle cx="227.24" cy="178.40" r="0.6" fill="#c8c8d2"/>
<circle cx="233.92" cy="178.40" r="0.6" fill="#c8c8d2"/>
<circle cx="240.60" cy="178.40" r="0.6" fill="#c8c8d2"/>
<circle cx="207.20" cy="171.70" r="0.6" fill="#c8c8d2"/>
<circle cx="213.88" cy="171.70" r="3.1" fill="#3a3af0"/>
<circle cx="220.56" cy="171.70" r="3.1" fill="#1c1cf0"/>
<circle cx="227.24" cy="171.70" r="2.8" fill="#2a2ae8"/>
<circle cx="233.92" cy="171.70" r="1.3" fill="#0c0cb8"/>
<circle cx="240.60" cy="171.70" r="3.0" fill="#1414f0"/>
<circle cx="207.20" cy="165.00" r="0.6" fill="#c8c8d2"/>
<circle cx="213.88" cy="165.00" r="1.8" fill="#a4a4c6"/>
<circle cx="220.56" cy="165.00" r="0.6" fill="#c8c8d2"/>
<circle cx="227.24" cy="165.00" r="0.95" fill="#8585c5"/>
<circle cx="233.92" cy="165.00" r="0.6" fill="#c8c8d2"/>
<circle cx="240.60" cy="165.00" r="0.95" fill="#708090"/>
<circle cx="207.20" cy="158.30" r="0.6" fill="#c8c8d2"/>
<circle cx="213.88" cy="158.30" r="0.6" fill="#c8c8d2"/>
<circle cx="220.56" cy="158.30" r="0.6" fill="#c8c8d2"/>
<circle cx="227.24" cy="158.30" r="0.6" fill="#c8c8d2"/>
<circle cx="233.92" cy="158.30" r="0.6" fill="#c8c8d2"/>
<circle cx="240.60" cy="158.30" r="0.6" fill="#c8c8d2"/>
<circle cx="207.20" cy="151.60" r="2.8" fill="#1818e8"/>
<circle cx="213.88" cy="151.60" r="2.4" fill="#6060c8"/>
<circle cx="220.56" cy="151.60" r="2.0" fill="#7878c8"/>
<circle cx="227.24" cy="151.60" r="0.9" fill="#707090"/>
<circle cx="233.92" cy="151.60" r="0.6" fill="#c8c8d2"/>
<circle cx="240.60" cy="151.60" r="0.8" fill="#606080"/>
<circle cx="207.20" cy="144.90" r="2.8" fill="#1010f0"/>
<circle cx="213.88" cy="144.90" r="3.0" fill="#1818e8"/>
<circle cx="220.56" cy="144.90" r="1.3" fill="#8888c8"/>
<circle cx="227.24" cy="144.90" r="0.6" fill="#c8c8d2"/>
<circle cx="233.92" cy="144.90" r="0.7" fill="#a8a8b8"/>
<circle cx="240.60" cy="144.90" r="0.6" fill="#a0a0b0"/>
<circle cx="207.20" cy="138.20" r="1.8" fill="#6060b8"/>
<circle cx="213.88" cy="138.20" r="2.2" fill="#a0a0c0"/>
<circle cx="220.56" cy="138.20" r="2.2" fill="#7070d0"/>
<circle cx="227.24" cy="138.20" r="0.8" fill="#8080a0"/>
<circle cx="233.92" cy="138.20" r="0.7" fill="#a0a0b0"/>
<circle cx="240.60" cy="138.20" r="1.2" fill="#505078"/>
<circle cx="207.20" cy="131.50" r="0.6" fill="#c8c8d2"/>
<circle cx="213.88" cy="131.50" r="3.2" fill="#1a1af0"/>
<circle cx="220.56" cy="131.50" r="1.9" fill="#8888b8"/>
<circle cx="227.24" cy="131.50" r="0.9" fill="#d0d0d8"/>
<circle cx="233.92" cy="131.50" r="0.8" fill="#c8c8d0"/>
<circle cx="240.60" cy="131.50" r="1.5" fill="#707098"/>
<circle cx="207.20" cy="124.80" r="0.6" fill="#c8c8d2"/>
<circle cx="213.88" cy="124.80" r="0.6" fill="#c8c8d2"/>
<circle cx="220.56" cy="124.80" r="0.6" fill="#c8c8d2"/>
<circle cx="227.24" cy="124.80" r="0.6" fill="#c8c8d2"/>
<circle cx="233.92" cy="124.80" r="0.6" fill="#c8c8d2"/>
<circle cx="240.60" cy="124.80" r="0.6" fill="#c8c8d2"/>
<circle cx="207.20" cy="118.10" r="0.6" fill="#c8c8d2"/>
<circle cx="213.88" cy="118.10" r="0.6" fill="#c8c8d2"/>
<circle cx="220.56" cy="118.10" r="0.6" fill="#c8c8d2"/>
<circle cx="227.24" cy="118.10" r="0.6" fill="#c8c8d2"/>
<circle cx="233.92" cy="118.10" r="0.6" fill="#c8c8d2"/>
<circle cx="240.60" cy="118.10" r="0.6" fill="#c8c8d2"/>
<circle cx="207.20" cy="111.40" r="0.6" fill="#c8c8d2"/>
<circle cx="213.88" cy="111.40" r="0.6" fill="#c8c8d2"/>
<circle cx="220.56" cy="111.40" r="0.6" fill="#c8c8d2"/>
<circle cx="227.24" cy="111.40" r="0.6" fill="#c8c8d2"/>
<circle cx="233.92" cy="111.40" r="0.6" fill="#c8c8d2"/>
<circle cx="240.60" cy="111.40" r="0.6" fill="#c8c8d2"/>
<text x="252" y="151.0" font-size="6.2" text-anchor="start" font-weight="normal" fill="#222" stroke="#222" stroke-width="0.22" >Pct expressed</text>
<circle cx="256.1" cy="157.4" r="0.45" fill="#bbb"/>
<text x="263.2" y="159.5" font-size="6.0" text-anchor="start" font-weight="normal" fill="#222" stroke="#222" stroke-width="0.22" >0</text>
<circle cx="256.1" cy="166.2" r="0.75" fill="#111"/>
<text x="263.2" y="168.3" font-size="6.0" text-anchor="start" font-weight="normal" fill="#222" stroke="#222" stroke-width="0.22" >25</text>
<circle cx="256.1" cy="174.3" r="1.4" fill="#111"/>
<text x="263.2" y="176.4" font-size="6.0" text-anchor="start" font-weight="normal" fill="#222" stroke="#222" stroke-width="0.22" >50</text>
<circle cx="256.1" cy="182.8" r="2.15" fill="#111"/>
<text x="263.2" y="184.9" font-size="6.0" text-anchor="start" font-weight="normal" fill="#222" stroke="#222" stroke-width="0.22" >75</text>
<text x="301.3" y="105.1" font-size="7.4" text-anchor="start" font-weight="bold" fill="#111" stroke="#111" stroke-width="0.1" >E</text>
<text x="355.4" y="114.6" font-size="5.4" text-anchor="middle" font-weight="bold" fill="#111" stroke="#111" stroke-width="0.1" >Gata3</text>
<line x1="325.7" y1="117.8" x2="325.7" y2="162.5" stroke="#555" stroke-width="0.55"/>
<line x1="325.7" y1="162.5" x2="384.5" y2="162.5" stroke="#555" stroke-width="0.55"/>
<line x1="324.8" y1="124.0" x2="325.7" y2="124.0" stroke="#555" stroke-width="0.4"/>
<text x="323.8" y="125.2" font-size="3.5" text-anchor="end" font-weight="normal" fill="#333" stroke="#333" stroke-width="0.12" >10</text>
<line x1="324.8" y1="131.2" x2="325.7" y2="131.2" stroke="#555" stroke-width="0.4"/>
<text x="323.8" y="132.5" font-size="3.5" text-anchor="end" font-weight="normal" fill="#333" stroke="#333" stroke-width="0.12" >5</text>
<line x1="324.8" y1="138.5" x2="325.7" y2="138.5" stroke="#555" stroke-width="0.4"/>
<text x="323.8" y="139.8" font-size="3.5" text-anchor="end" font-weight="normal" fill="#333" stroke="#333" stroke-width="0.12" >0</text>
<line x1="324.8" y1="145.8" x2="325.7" y2="145.8" stroke="#555" stroke-width="0.4"/>
<text x="323.8" y="147.0" font-size="3.5" text-anchor="end" font-weight="normal" fill="#333" stroke="#333" stroke-width="0.12" >-5</text>
<line x1="324.8" y1="153.0" x2="325.7" y2="153.0" stroke="#555" stroke-width="0.4"/>
<text x="323.8" y="154.2" font-size="3.5" text-anchor="end" font-weight="normal" fill="#333" stroke="#333" stroke-width="0.12" >-10</text>
<line x1="324.8" y1="160.2" x2="325.7" y2="160.2" stroke="#555" stroke-width="0.4"/>
<text x="323.8" y="161.5" font-size="3.5" text-anchor="end" font-weight="normal" fill="#333" stroke="#333" stroke-width="0.12" >-15</text>
<line x1="325.8" y1="162.5" x2="325.8" y2="163.3" stroke="#555" stroke-width="0.4"/>
<text x="325.8" y="167.0" font-size="3.5" text-anchor="middle" font-weight="normal" fill="#333" stroke="#333" stroke-width="0.12" >-20</text>
<line x1="342.4" y1="162.5" x2="342.4" y2="163.3" stroke="#555" stroke-width="0.4"/>
<text x="342.4" y="167.0" font-size="3.5" text-anchor="middle" font-weight="normal" fill="#333" stroke="#333" stroke-width="0.12" >-10</text>
<line x1="359.0" y1="162.5" x2="359.0" y2="163.3" stroke="#555" stroke-width="0.4"/>
<text x="359.0" y="167.0" font-size="3.5" text-anchor="middle" font-weight="normal" fill="#333" stroke="#333" stroke-width="0.12" >0</text>
<line x1="375.6" y1="162.5" x2="375.6" y2="163.3" stroke="#555" stroke-width="0.4"/>
<text x="375.6" y="167.0" font-size="3.5" text-anchor="middle" font-weight="normal" fill="#333" stroke="#333" stroke-width="0.12" >10</text>
<text x="354.8" y="172.8" font-size="4.0" text-anchor="middle" font-weight="normal" fill="#333" stroke="#333" stroke-width="0.12" >UMAP_1</text>
<text x="0" y="0" font-size="4.0" text-anchor="middle" font-weight="normal" fill="#333" stroke="#333" stroke-width="0.12" transform="translate(315.9 138.0) rotate(-90)">UMAP_2</text>
<rect x="389.6" y="128.2" width="4.8" height="26" fill="url(#cb)"/>
<text x="396.2" y="131.0" font-size="3.0" text-anchor="start" font-weight="normal" fill="#555" stroke="#555" stroke-width="0.22" >4</text>
<text x="396.2" y="136.9" font-size="3.0" text-anchor="start" font-weight="normal" fill="#555" stroke="#555" stroke-width="0.22" >3</text>
<text x="396.2" y="142.8" font-size="3.0" text-anchor="start" font-weight="normal" fill="#555" stroke="#555" stroke-width="0.22" >2</text>
<text x="396.2" y="148.7" font-size="3.0" text-anchor="start" font-weight="normal" fill="#555" stroke="#555" stroke-width="0.22" >1</text>
<text x="396.2" y="154.6" font-size="3.0" text-anchor="start" font-weight="normal" fill="#555" stroke="#555" stroke-width="0.22" >0</text>
<g filter="url(#spk2)">
<path d="M361 121 Q363.8 119.6 366.6 121.2 Q368.2 124 367.9 127.5 Q367.4 131 364.8 131.8 Q362 131.6 361 128.5 Q360 124.5 361 121Z" fill="#a6a6a6"/>
<path d="M338.1 132 Q340.2 130.6 342.6 132 Q342.8 134.8 340.6 135.8 Q338.3 135 338.1 132Z" fill="#949498"/>
<path d="M339.3 136.5 L341.1 136.5 L340.9 141 L340.6 145.2 L339.3 145.2 Z" fill="#949498"/>
<path d="M354.2 145 Q356.5 143.4 359.4 144.4 Q359.8 148 357.8 151.5 Q355.6 153.6 354.4 150.5 Z" fill="#8a8ac0"/>
<path d="M342 156 Q345 155.2 347.4 157.2 Q346 158.6 343 158 Z" fill="#9c9c9c"/>
</g>
<g filter="url(#bl3)">
<path d="M370.1 153 Q372 152.3 373.6 153.6 L373.9 160.4 Q372.2 161.3 370.4 159.8 Z" fill="#5040e0"/>
<circle cx="372.4" cy="157.5" r="1" fill="#2a18c0" opacity="0.6"/>
</g>
<circle cx="359.9" cy="144.9" r="0.75" fill="#8a8aa8"/>
<circle cx="361.3" cy="145.3" r="0.75" fill="#8a8aa8"/>
<circle cx="361.5" cy="150.7" r="0.75" fill="#8a8aa8"/>
<circle cx="364.3" cy="151.6" r="0.75" fill="#8a8aa8"/>
<circle cx="366.2" cy="152.6" r="0.75" fill="#8a8aa8"/>
<circle cx="365.3" cy="155.2" r="0.75" fill="#8a8aa8"/>
<circle cx="368.2" cy="153.4" r="0.75" fill="#8a8aa8"/>
<circle cx="331.6" cy="135.8" r="0.7" fill="#bbb"/><circle cx="329.7" cy="140.4" r="0.6" fill="#bbb"/>
<text x="355.0" y="182.1" font-size="5.0" text-anchor="middle" font-weight="bold" fill="#111" stroke="#111" stroke-width="0.1" >Areg</text>
<line x1="325.7" y1="185.3" x2="325.7" y2="231.9" stroke="#555" stroke-width="0.55"/>
<line x1="325.7" y1="231.9" x2="384.5" y2="231.9" stroke="#555" stroke-width="0.55"/>
<line x1="324.8" y1="191.7" x2="325.7" y2="191.7" stroke="#555" stroke-width="0.4"/>
<text x="323.8" y="192.9" font-size="3.5" text-anchor="end" font-weight="normal" fill="#333" stroke="#333" stroke-width="0.12" >10</text>
<line x1="324.8" y1="198.9" x2="325.7" y2="198.9" stroke="#555" stroke-width="0.4"/>
<text x="323.8" y="200.2" font-size="3.5" text-anchor="end" font-weight="normal" fill="#333" stroke="#333" stroke-width="0.12" >5</text>
<line x1="324.8" y1="206.2" x2="325.7" y2="206.2" stroke="#555" stroke-width="0.4"/>
<text x="323.8" y="207.4" font-size="3.5" text-anchor="end" font-weight="normal" fill="#333" stroke="#333" stroke-width="0.12" >0</text>
<line x1="324.8" y1="213.4" x2="325.7" y2="213.4" stroke="#555" stroke-width="0.4"/>
<text x="323.8" y="214.7" font-size="3.5" text-anchor="end" font-weight="normal" fill="#333" stroke="#333" stroke-width="0.12" >-5</text>
<line x1="324.8" y1="220.7" x2="325.7" y2="220.7" stroke="#555" stroke-width="0.4"/>
<text x="323.8" y="221.9" font-size="3.5" text-anchor="end" font-weight="normal" fill="#333" stroke="#333" stroke-width="0.12" >-10</text>
<line x1="324.8" y1="227.9" x2="325.7" y2="227.9" stroke="#555" stroke-width="0.4"/>
<text x="323.8" y="229.2" font-size="3.5" text-anchor="end" font-weight="normal" fill="#333" stroke="#333" stroke-width="0.12" >-15</text>
<line x1="325.8" y1="231.9" x2="325.8" y2="232.70000000000002" stroke="#555" stroke-width="0.4"/>
<text x="325.8" y="236.4" font-size="3.5" text-anchor="middle" font-weight="normal" fill="#333" stroke="#333" stroke-width="0.12" >-20</text>
<line x1="342.4" y1="231.9" x2="342.4" y2="232.70000000000002" stroke="#555" stroke-width="0.4"/>
<text x="342.4" y="236.4" font-size="3.5" text-anchor="middle" font-weight="normal" fill="#333" stroke="#333" stroke-width="0.12" >-10</text>
<line x1="359.0" y1="231.9" x2="359.0" y2="232.70000000000002" stroke="#555" stroke-width="0.4"/>
<text x="359.0" y="236.4" font-size="3.5" text-anchor="middle" font-weight="normal" fill="#333" stroke="#333" stroke-width="0.12" >0</text>
<line x1="375.6" y1="231.9" x2="375.6" y2="232.70000000000002" stroke="#555" stroke-width="0.4"/>
<text x="375.6" y="236.4" font-size="3.5" text-anchor="middle" font-weight="normal" fill="#333" stroke="#333" stroke-width="0.12" >10</text>
<text x="354.8" y="240.6" font-size="4.0" text-anchor="middle" font-weight="normal" fill="#333" stroke="#333" stroke-width="0.12" >UMAP_1</text>
<text x="0" y="0" font-size="4.0" text-anchor="middle" font-weight="normal" fill="#333" stroke="#333" stroke-width="0.12" transform="translate(315.9 205.7) rotate(-90)">UMAP_2</text>
<rect x="389.6" y="196.3" width="4.8" height="24.2" fill="url(#cb)"/>
<text x="396.6" y="198.8" font-size="3.0" text-anchor="start" font-weight="normal" fill="#555" stroke="#555" stroke-width="0.22" >4</text>
<text x="396.6" y="204.3" font-size="3.0" text-anchor="start" font-weight="normal" fill="#555" stroke="#555" stroke-width="0.22" >3</text>
<text x="396.6" y="209.8" font-size="3.0" text-anchor="start" font-weight="normal" fill="#555" stroke="#555" stroke-width="0.22" >2</text>
<text x="396.6" y="215.3" font-size="3.0" text-anchor="start" font-weight="normal" fill="#555" stroke="#555" stroke-width="0.22" >1</text>
<text x="396.6" y="220.8" font-size="3.0" text-anchor="start" font-weight="normal" fill="#555" stroke="#555" stroke-width="0.22" >0</text>
<g filter="url(#spk2)">
<path d="M361 187.5 Q363.8 186.1 366.6 187.7 Q368.2 190.5 367.9 194.0 Q367.4 197.5 364.8 198.3 Q362 198.1 361 195.0 Q360 191.0 361 187.5Z" fill="#a6a6a6"/>
<path d="M338.1 198.5 Q340.2 197.1 342.6 198.5 Q342.8 201.3 340.6 202.3 Q338.3 201.5 338.1 198.5Z" fill="#8c8cd0"/>
<path d="M339.3 203.0 L341.1 203.0 L340.9 207.5 L340.6 211.7 L339.3 211.7 Z" fill="#8c8cd0"/>
<path d="M354.2 211.5 Q356.5 209.9 359.4 210.9 Q359.8 214.5 357.8 218.0 Q355.6 220.1 354.4 217.0 Z" fill="#8a8ac0"/>
<path d="M342 222.5 Q345 221.7 347.4 223.7 Q346 225.1 343 224.5 Z" fill="#9c9c9c"/>
</g>
<g filter="url(#bl3)">
<path d="M370.1 219.5 Q372 218.8 373.6 220.1 L373.9 226.9 Q372.2 227.8 370.4 226.3 Z" fill="#7a70e0"/>
<circle cx="372.4" cy="224.0" r="1" fill="#2a18c0" opacity="0.6"/>
</g>
<circle cx="359.9" cy="211.4" r="0.75" fill="#8c84c8"/>
<circle cx="361.3" cy="211.8" r="0.75" fill="#8c84c8"/>
<circle cx="361.5" cy="217.2" r="0.75" fill="#8c84c8"/>
<circle cx="364.3" cy="218.1" r="0.75" fill="#8c84c8"/>
<circle cx="366.2" cy="219.1" r="0.75" fill="#8c84c8"/>
<circle cx="365.3" cy="221.7" r="0.75" fill="#8c84c8"/>
<circle cx="368.2" cy="219.9" r="0.75" fill="#8c84c8"/>
<circle cx="331.6" cy="202.3" r="0.7" fill="#bbb"/><circle cx="329.7" cy="206.9" r="0.6" fill="#bbb"/>
</g>
</svg>
</body></html>
